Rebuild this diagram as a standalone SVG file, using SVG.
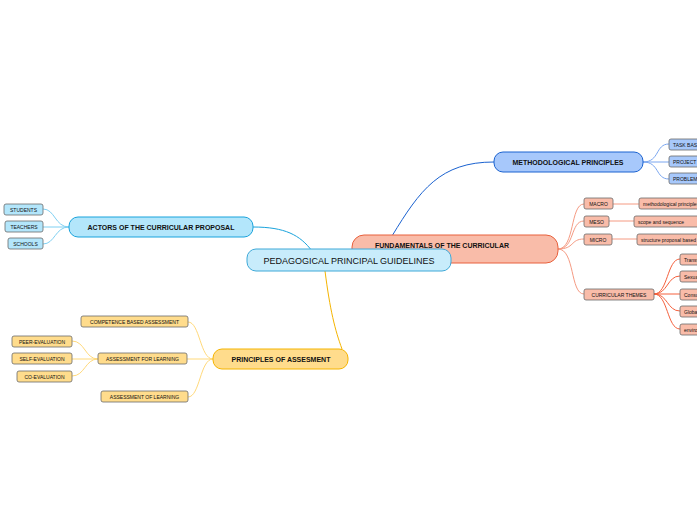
<svg xmlns="http://www.w3.org/2000/svg" width="697" height="520" viewBox="0 0 697 520">
<style>
text{font-family:"Liberation Sans",Arial,sans-serif;fill:#111}
.m{font-size:7px;font-weight:bold}
.s{font-size:5px}
.c{fill:none;stroke-width:1}
.sm{stroke:#6b6b6b;stroke-width:0.8}
.or{fill:#f9bca9}.bl{fill:#a7c8fb}.cy{fill:#b3e6fb}.ye{fill:#ffdc8c}
</style>
<rect width="697" height="520" fill="#fff"/>
<g id="connectors">
<path class="c" stroke="#1a62d0" stroke-width="1.3" d="M392,236 C420,190 440,162 494,162"/>
<path class="c" stroke="#19a3dc" stroke-width="1.3" d="M253,227 C285,227 300,235 312,251"/>
<path class="c" stroke="#f5b400" stroke-width="1.3" d="M325,271 C330,310 335,330 342,349"/>
<path class="c" stroke="#7aa6f0" d="M643,162 C660,162 655,144 669,144 M643,162 H669 M643,162 C660,162 655,179 669,179"/>
<path class="c" stroke="#7fd0f2" d="M69,227 C55,227 55,209 43,209 M69,227 H43 M69,227 C55,227 55,244 43,244"/>
<path class="c" stroke="#ffd97a" d="M213,359 C200,359 200,322 188,322 M213,359 H187 M213,359 C200,359 200,397 188,397"/>
<path class="c" stroke="#ffd97a" d="M98,359 C85,359 85,341 72,341 M98,359 H72 M98,359 C85,359 85,376 72,376"/>
<path class="c" stroke="#f59a82" d="M558,249 C575,249 570,204 584,204 M558,249 C575,249 570,221 584,221 M558,249 C575,249 570,239 584,239 M558,249 C575,249 570,294 584,294"/>
<path class="c" stroke="#f59a82" d="M613,204 H639 M609,221 H634 M612,239 H637"/>
<path class="c" stroke="#f5603c" d="M654,294 C668,294 667,259 680,259 M654,294 C668,294 667,276 680,276 M654,294 H680 M654,294 C668,294 667,311 680,311 M654,294 C668,294 667,329 680,329"/>
</g>
<g id="fundamentals"><rect x="352" y="235" width="206" height="28" rx="12" class="or" stroke="#e8603c"/><text x="442" y="248" class="m" text-anchor="middle">FUNDAMENTALS OF THE CURRICULAR</text></g>
<g id="central"><rect x="247" y="249" width="204" height="22" rx="9" fill="#c8ecfb" stroke="#3fa9d8"/><text x="349" y="264" font-size="9" text-anchor="middle">PEDAGOGICAL PRINCIPAL GUIDELINES</text></g>
<g id="methodological"><rect x="494" y="152" width="149" height="20" rx="9" class="bl" stroke="#1a62d0"/><text x="568" y="165" class="m" text-anchor="middle">METHODOLOGICAL PRINCIPLES</text></g>
<g id="task"><rect x="669" y="139" width="40" height="11" rx="2" class="bl sm"/><text x="673" y="147" class="s">TASK BASED</text></g>
<g id="project"><rect x="669" y="156" width="40" height="11" rx="2" class="bl sm"/><text x="673" y="164" class="s">PROJECT BASED</text></g>
<g id="problem"><rect x="669" y="173" width="40" height="11" rx="2" class="bl sm"/><text x="673" y="181" class="s">PROBLEM BASED</text></g>
<g id="actors"><rect x="69" y="217" width="184" height="20" rx="9" class="cy" stroke="#19a3dc"/><text x="161" y="230" class="m" text-anchor="middle">ACTORS OF THE CURRICULAR PROPOSAL</text></g>
<g id="students"><rect x="4" y="204" width="39" height="11" rx="2" class="cy sm"/><text x="23.5" y="212" class="s" text-anchor="middle">STUDENTS</text></g>
<g id="teachers"><rect x="5" y="221" width="38" height="11" rx="2" class="cy sm"/><text x="24" y="229" class="s" text-anchor="middle">TEACHERS</text></g>
<g id="schools"><rect x="8" y="238" width="35" height="11" rx="2" class="cy sm"/><text x="25.5" y="246" class="s" text-anchor="middle">SCHOOLS</text></g>
<g id="principles"><rect x="213" y="349" width="135" height="20" rx="9" class="ye" stroke="#f5b400"/><text x="281" y="362" class="m" text-anchor="middle">PRINCIPLES OF ASSESMENT</text></g>
<g id="competence"><rect x="81" y="316" width="107" height="11" rx="2" class="ye sm"/><text x="134.5" y="324" class="s" text-anchor="middle">COMPETENCE BASED ASSESSMENT</text></g>
<g id="afl"><rect x="98" y="353" width="89" height="11" rx="2" class="ye sm"/><text x="142.5" y="361" class="s" text-anchor="middle">ASSESSMENT FOR LEARNING</text></g>
<g id="aol"><rect x="101" y="391" width="87" height="11" rx="2" class="ye sm"/><text x="144.5" y="399" class="s" text-anchor="middle">ASSESSMENT OF LEARNING</text></g>
<g id="peer"><rect x="12" y="336" width="60" height="11" rx="2" class="ye sm"/><text x="42" y="344" class="s" text-anchor="middle">PEER-EVALUATION</text></g>
<g id="self"><rect x="12" y="353" width="60" height="11" rx="2" class="ye sm"/><text x="42" y="361" class="s" text-anchor="middle">SELF-EVALUATION</text></g>
<g id="co"><rect x="17" y="371" width="55" height="11" rx="2" class="ye sm"/><text x="44.5" y="379" class="s" text-anchor="middle">CO-EVALUATION</text></g>
<g id="macro"><rect x="584" y="198" width="29" height="11" rx="2" class="or sm"/><text x="598.5" y="206" class="s" text-anchor="middle">MACRO</text></g>
<g id="meso"><rect x="584" y="216" width="25" height="11" rx="2" class="or sm"/><text x="596.5" y="224" class="s" text-anchor="middle">MESO</text></g>
<g id="micro"><rect x="584" y="234" width="28" height="11" rx="2" class="or sm"/><text x="598" y="242" class="s" text-anchor="middle">MICRO</text></g>
<g id="themes"><rect x="584" y="289" width="70" height="11" rx="2" class="or sm"/><text x="619" y="297" class="s" text-anchor="middle">CURRICULAR THEMES</text></g>
<g id="macro-c"><rect x="639" y="198" width="70" height="11" rx="2" class="or sm"/><text x="643" y="206" class="s">methodological principles</text></g>
<g id="meso-c"><rect x="634" y="216" width="75" height="11" rx="2" class="or sm"/><text x="638" y="224" class="s">scope and sequence</text></g>
<g id="micro-c"><rect x="637" y="234" width="72" height="11" rx="2" class="or sm"/><text x="641" y="242" class="s">structure proposal based</text></g>
<g id="t1"><rect x="680" y="254" width="30" height="11" rx="2" class="or sm"/><text x="684" y="262" class="s">Transversal</text></g>
<g id="t2"><rect x="680" y="271" width="30" height="11" rx="2" class="or sm"/><text x="684" y="279" class="s">Sexual</text></g>
<g id="t3"><rect x="680" y="289" width="30" height="11" rx="2" class="or sm"/><text x="684" y="297" class="s">Consumer</text></g>
<g id="t4"><rect x="680" y="306" width="30" height="11" rx="2" class="or sm"/><text x="684" y="314" class="s">Global</text></g>
<g id="t5"><rect x="680" y="324" width="30" height="11" rx="2" class="or sm"/><text x="684" y="332" class="s">environment</text></g>
</svg>
